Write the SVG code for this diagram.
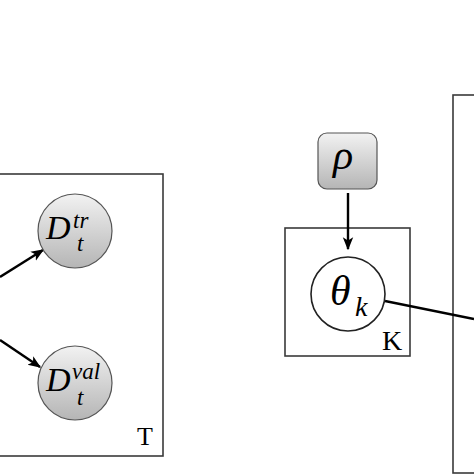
<svg xmlns="http://www.w3.org/2000/svg" width="474" height="474" viewBox="0 0 474 474">
<defs>
<linearGradient id="g" x1="0" y1="0" x2="0" y2="1">
<stop offset="0" stop-color="#f2f2f2"/>
<stop offset="1" stop-color="#b5b5b5"/>
</linearGradient>
<marker id="arr" viewBox="0 0 10 10" refX="9" refY="5" markerWidth="13" markerHeight="13" orient="auto" markerUnits="userSpaceOnUse">
<path d="M0,1 L10,5 L0,9 L2.5,5 z" fill="#000"/>
</marker>
</defs>
<style>
.plate{fill:none;stroke:#3a3a3a;stroke-width:1.6}
.obs{fill:url(#g);stroke:#555;stroke-width:1.2}
.lat{fill:#fff;stroke:#222;stroke-width:1.6}
.edge{fill:none;stroke:#000;stroke-width:2.4}
.m{font-family:"Liberation Serif","DejaVu Serif",serif;font-style:italic;fill:#000}
.r{font-family:"Liberation Serif","DejaVu Serif",serif;fill:#000}
</style>
<rect width="474" height="474" fill="#fff"/>
<g id="plate-T"><rect class="plate" x="-10" y="174" width="173" height="282"/><text class="r" x="137" y="445" font-size="26">T</text></g>
<g id="plate-K"><rect class="plate" x="285" y="228" width="125" height="128"/><text class="r" x="382" y="350" font-size="28">K</text></g>
<g id="plate-right"><rect class="plate" x="453" y="95" width="40" height="378"/></g>
<g id="connectors">
<line class="edge" x1="0" y1="277" x2="43" y2="250" marker-end="url(#arr)"/>
<line class="edge" x1="0" y1="340" x2="40" y2="367" marker-end="url(#arr)"/>
<line class="edge" x1="348" y1="193" x2="348" y2="249" marker-end="url(#arr)"/>
<line class="edge" x1="385" y1="301" x2="474" y2="319"/>
</g>
<g id="node-Dtr"><circle class="obs" cx="75" cy="231" r="37"/>
<text class="m" x="46" y="239" font-size="34">D</text>
<text class="m" x="73" y="228" font-size="23">tr</text>
<text class="m" x="77" y="251" font-size="23">t</text></g>
<g id="node-Dval"><circle class="obs" cx="75" cy="383" r="37"/>
<text class="m" x="46" y="391" font-size="34">D</text>
<text class="m" x="72" y="379" font-size="23">val</text>
<text class="m" x="77" y="405" font-size="23">t</text></g>
<g id="node-rho"><rect class="obs" x="318" y="133" width="59" height="56" rx="9"/>
<text class="m" x="333" y="169" font-size="42">ρ</text></g>
<g id="node-theta"><circle class="lat" cx="348" cy="294" r="37"/>
<text class="m" x="330" y="305" font-size="42">θ</text>
<text class="m" x="355" y="316" font-size="28">k</text></g>
</svg>
